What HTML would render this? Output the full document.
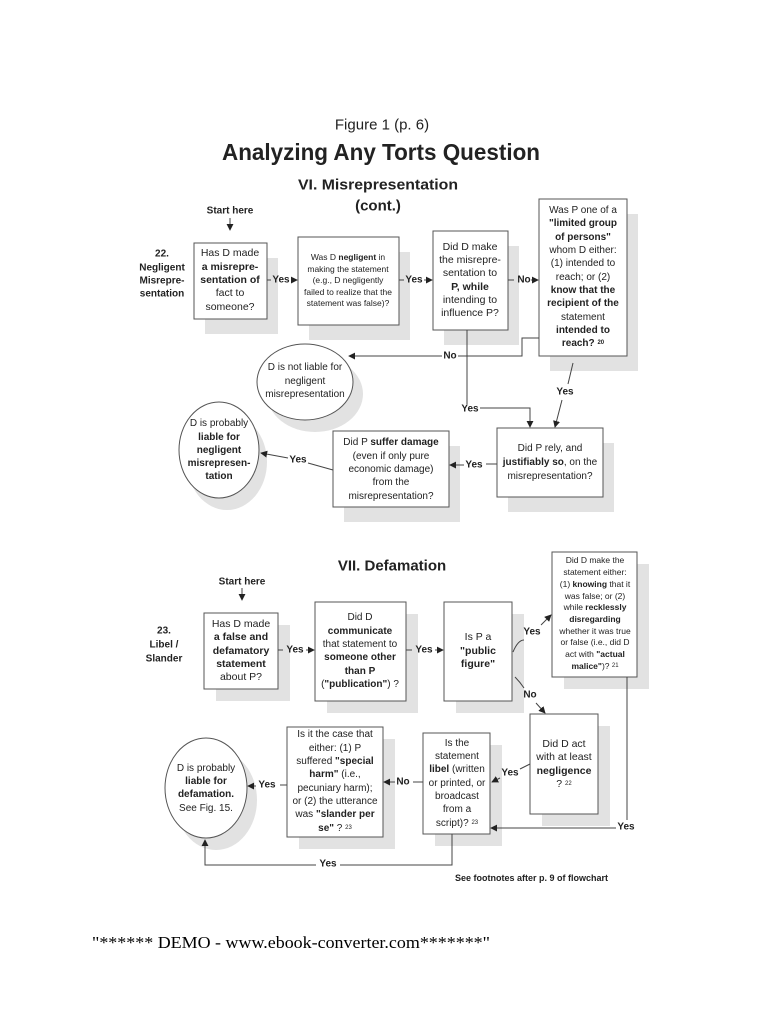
<!DOCTYPE html>
<html><head><meta charset="utf-8"><style>
html,body{margin:0;padding:0;background:#fff;}
svg{display:block;}
text{font-family:"Liberation Sans",Arial,sans-serif;fill:#222;}
.t{text-anchor:middle;dominant-baseline:central;}
.b{font-weight:bold;}
.ln{stroke:#444;stroke-width:1;fill:none;}
.bx{fill:#fff;stroke:#555;stroke-width:1;}
.sh{fill:#e2e2e2;}
</style></head><body>
<svg width="768" height="1024" viewBox="0 0 768 1024" xmlns="http://www.w3.org/2000/svg">
<defs><marker id="a" viewBox="0 0 8 8" refX="7" refY="4" markerWidth="7" markerHeight="7" orient="auto"><path d="M0,0 L8,4 L0,8 z" fill="#222"/></marker></defs>

<text class="t" x="382" y="125" font-size="15">Figure 1 (p. 6)</text>
<text class="t b" x="381" y="152" font-size="23" textLength="318" lengthAdjust="spacingAndGlyphs">Analyzing Any Torts Question</text>
<text class="t b" x="378" y="185" font-size="15" textLength="160" lengthAdjust="spacingAndGlyphs">VI. Misrepresentation</text>
<text class="t b" x="378" y="206" font-size="15">(cont.)</text>

<!-- section 1 -->
<text class="t b" x="230" y="211" font-size="10">Start here</text>
<line class="ln" x1="230" y1="218" x2="230" y2="230" marker-end="url(#a)"/>
<text class="t b" x="162" y="254" font-size="10">22.</text>
<text class="t b" x="162" y="268" font-size="10">Negligent</text>
<text class="t b" x="162" y="281" font-size="10">Misrepre-</text>
<text class="t b" x="162" y="294" font-size="10">sentation</text>

<rect class="sh" x="205" y="258" width="73" height="76"/>
<rect class="sh" x="309" y="252" width="101" height="88"/>
<rect class="sh" x="444" y="246" width="75" height="99"/>
<rect class="sh" x="550" y="214" width="88" height="157"/>
<rect class="sh" x="344" y="446" width="116" height="76"/>
<rect class="sh" x="508" y="443" width="106" height="69"/>
<ellipse class="sh" cx="315" cy="394" rx="48" ry="38"/>
<ellipse class="sh" cx="227" cy="462" rx="40" ry="48"/>

<rect class="bx" x="194" y="243" width="73" height="76"/>
<text class="t" font-size="10.5" x="230"><tspan x="230" y="253">Has D made</tspan><tspan x="230" y="267" class="b">a misrepre-</tspan><tspan x="230" y="280" class="b">sentation of</tspan><tspan x="230" y="293">fact to</tspan><tspan x="230" y="307">someone?</tspan></text>

<rect class="bx" x="298" y="237" width="101" height="88"/>
<text class="t" font-size="8.5"><tspan x="348" y="257">Was D <tspan class="b">negligent</tspan> in</tspan><tspan x="348" y="269">making the statement</tspan><tspan x="348" y="280">(e.g., D negligently</tspan><tspan x="348" y="292">failed to realize that the</tspan><tspan x="348" y="303">statement was false)?</tspan></text>

<rect class="bx" x="433" y="231" width="75" height="99"/>
<text class="t" font-size="10.5"><tspan x="470" y="247">Did D make</tspan><tspan x="470" y="260">the misrepre-</tspan><tspan x="470" y="273">sentation to</tspan><tspan x="470" y="287" class="b">P, while</tspan><tspan x="470" y="300">intending to</tspan><tspan x="470" y="313">influence P?</tspan></text>

<rect class="bx" x="539" y="199" width="88" height="157"/>
<text class="t" font-size="10"><tspan x="583" y="210">Was P one of a</tspan><tspan x="583" y="223" class="b">"limited group</tspan><tspan x="583" y="237" class="b">of persons"</tspan><tspan x="583" y="250">whom D either:</tspan><tspan x="583" y="263">(1) intended to</tspan><tspan x="583" y="277">reach; or (2)</tspan><tspan x="583" y="290" class="b">know that the</tspan><tspan x="583" y="303" class="b">recipient of the</tspan><tspan x="583" y="317">statement</tspan><tspan x="583" y="330" class="b">intended to</tspan><tspan x="583" y="343" class="b">reach? <tspan font-size="6">20</tspan></tspan></text>

<ellipse class="bx" cx="305" cy="382" rx="48" ry="38"/>
<text class="t" font-size="10"><tspan x="305" y="367">D is not liable for</tspan><tspan x="305" y="381">negligent</tspan><tspan x="305" y="394">misrepresentation</tspan></text>

<ellipse class="bx" cx="219" cy="450" rx="40" ry="48"/>
<text class="t" font-size="10"><tspan x="219" y="423">D is probably</tspan><tspan x="219" y="437" class="b">liable for</tspan><tspan x="219" y="450" class="b">negligent</tspan><tspan x="219" y="463" class="b">misrepresen-</tspan><tspan x="219" y="476" class="b">tation</tspan></text>

<rect class="bx" x="333" y="431" width="116" height="76"/>
<text class="t" font-size="10"><tspan x="391" y="442">Did P <tspan class="b">suffer damage</tspan></tspan><tspan x="391" y="456">(even if only pure</tspan><tspan x="391" y="469">economic damage)</tspan><tspan x="391" y="482">from the</tspan><tspan x="391" y="496">misrepresentation?</tspan></text>

<rect class="bx" x="497" y="428" width="106" height="69"/>
<text class="t" font-size="10"><tspan x="550" y="448">Did P rely, and</tspan><tspan x="550" y="462"><tspan class="b">justifiably so</tspan>, on the</tspan><tspan x="550" y="476">misrepresentation?</tspan></text>

<!-- connectors 1 -->
<line class="ln" x1="267" y1="280" x2="271" y2="280"/><text class="t b" x="281" y="280" font-size="10">Yes</text><line class="ln" x1="291" y1="280" x2="297" y2="280" marker-end="url(#a)"/>
<line class="ln" x1="399" y1="280" x2="404" y2="280"/><text class="t b" x="414" y="280" font-size="10">Yes</text><line class="ln" x1="424" y1="280" x2="432" y2="280" marker-end="url(#a)"/>
<line class="ln" x1="508" y1="280" x2="514" y2="280"/><text class="t b" x="524" y="280" font-size="10">No</text><line class="ln" x1="531" y1="280" x2="538" y2="280" marker-end="url(#a)"/>
<polyline class="ln" points="539,338 522,338 522,356 458,356"/><text class="t b" x="450" y="356" font-size="10">No</text><line class="ln" x1="442" y1="356" x2="349" y2="356" marker-end="url(#a)"/>
<polyline class="ln" points="467,330 467,404"/><text class="t b" x="470" y="409" font-size="10">Yes</text><polyline class="ln" points="480,408 530,408 530,427" marker-end="url(#a)"/>
<line class="ln" x1="573" y1="363" x2="568" y2="384"/><text class="t b" x="565" y="392" font-size="10">Yes</text><line class="ln" x1="562" y1="400" x2="555" y2="427" marker-end="url(#a)"/>
<line class="ln" x1="497" y1="464" x2="486" y2="464"/><text class="t b" x="474" y="465" font-size="10">Yes</text><line class="ln" x1="464" y1="465" x2="450" y2="465" marker-end="url(#a)"/>
<line class="ln" x1="333" y1="470" x2="308" y2="463"/><text class="t b" x="298" y="460" font-size="10">Yes</text><line class="ln" x1="288" y1="458" x2="261" y2="453" marker-end="url(#a)"/>

<!-- section 2 -->
<text class="t b" x="392" y="566" font-size="15">VII. Defamation</text>
<text class="t b" x="242" y="582" font-size="10">Start here</text>
<line class="ln" x1="242" y1="588" x2="242" y2="600" marker-end="url(#a)"/>
<text class="t b" x="164" y="631" font-size="10">23.</text>
<text class="t b" x="164" y="645" font-size="10">Libel /</text>
<text class="t b" x="164" y="659" font-size="10">Slander</text>

<rect class="sh" x="216" y="625" width="74" height="76"/>
<rect class="sh" x="327" y="614" width="91" height="99"/>
<rect class="sh" x="456" y="614" width="68" height="99"/>
<rect class="sh" x="564" y="564" width="85" height="125"/>
<rect class="sh" x="542" y="726" width="68" height="100"/>
<rect class="sh" x="435" y="745" width="67" height="101"/>
<rect class="sh" x="299" y="739" width="96" height="110"/>
<ellipse class="sh" cx="216" cy="800" rx="41" ry="50"/>

<rect class="bx" x="204" y="613" width="74" height="76"/>
<text class="t" font-size="10.5"><tspan x="241" y="624">Has D made</tspan><tspan x="241" y="637" class="b">a false and</tspan><tspan x="241" y="651" class="b">defamatory</tspan><tspan x="241" y="664" class="b">statement</tspan><tspan x="241" y="677">about P?</tspan></text>

<rect class="bx" x="315" y="602" width="91" height="99"/>
<text class="t" font-size="10"><tspan x="360" y="617">Did D</tspan><tspan x="360" y="631" class="b">communicate</tspan><tspan x="360" y="644">that statement to</tspan><tspan x="360" y="657" class="b">someone other</tspan><tspan x="360" y="671" class="b">than P</tspan><tspan x="360" y="684">(<tspan class="b">"publication"</tspan>) ?</tspan></text>

<rect class="bx" x="444" y="602" width="68" height="99"/>
<text class="t" font-size="10.5"><tspan x="478" y="637">Is P a</tspan><tspan x="478" y="651" class="b">"public</tspan><tspan x="478" y="664" class="b">figure"</tspan></text>

<rect class="bx" x="552" y="552" width="85" height="125"/>
<text class="t" font-size="8.5"><tspan x="595" y="560">Did D make the</tspan><tspan x="595" y="572">statement either:</tspan><tspan x="595" y="584">(1) <tspan class="b">knowing</tspan> that it</tspan><tspan x="595" y="596">was false; or (2)</tspan><tspan x="595" y="607">while <tspan class="b">recklessly</tspan></tspan><tspan x="595" y="619" class="b">disregarding</tspan><tspan x="595" y="631">whether it was true</tspan><tspan x="595" y="642">or false (i.e., did D</tspan><tspan x="595" y="654">act with <tspan class="b">"actual</tspan></tspan><tspan x="595" y="666"><tspan class="b">malice"</tspan>)? <tspan font-size="6">21</tspan></tspan></text>

<rect class="bx" x="530" y="714" width="68" height="100"/>
<text class="t" font-size="10.5"><tspan x="564" y="744">Did D act</tspan><tspan x="564" y="757">with at least</tspan><tspan x="564" y="771" class="b">negligence</tspan><tspan x="564" y="784">? <tspan font-size="6">22</tspan></tspan></text>

<rect class="bx" x="423" y="733" width="67" height="101"/>
<text class="t" font-size="10"><tspan x="457" y="743">Is the</tspan><tspan x="457" y="756">statement</tspan><tspan x="457" y="769"><tspan class="b">libel</tspan> (written</tspan><tspan x="457" y="783">or printed, or</tspan><tspan x="457" y="796">broadcast</tspan><tspan x="457" y="809">from a</tspan><tspan x="457" y="823">script)? <tspan font-size="6">23</tspan></tspan></text>

<rect class="bx" x="287" y="727" width="96" height="110"/>
<text class="t" font-size="10"><tspan x="335" y="734">Is it the case that</tspan><tspan x="335" y="748">either: (1) P</tspan><tspan x="335" y="761">suffered <tspan class="b">"special</tspan></tspan><tspan x="335" y="774"><tspan class="b">harm"</tspan> (i.e.,</tspan><tspan x="335" y="788">pecuniary harm);</tspan><tspan x="335" y="801">or (2) the utterance</tspan><tspan x="335" y="814">was <tspan class="b">"slander per</tspan></tspan><tspan x="335" y="828"><tspan class="b">se"</tspan> ? <tspan font-size="6">23</tspan></tspan></text>

<ellipse class="bx" cx="206" cy="788" rx="41" ry="50"/>
<text class="t" font-size="10"><tspan x="206" y="768">D is probably</tspan><tspan x="206" y="781" class="b">liable for</tspan><tspan x="206" y="794" class="b">defamation.</tspan><tspan x="206" y="808">See Fig. 15.</tspan></text>

<!-- connectors 2 -->
<line class="ln" x1="278" y1="650" x2="283" y2="650"/><text class="t b" x="295" y="650" font-size="10">Yes</text><line class="ln" x1="306" y1="650" x2="314" y2="650" marker-end="url(#a)"/>
<line class="ln" x1="406" y1="650" x2="412" y2="650"/><text class="t b" x="424" y="650" font-size="10">Yes</text><line class="ln" x1="435" y1="650" x2="443" y2="650" marker-end="url(#a)"/>
<path class="ln" d="M513,652 Q518,640 524,640"/><text class="t b" x="532" y="632" font-size="10">Yes</text><line class="ln" x1="541" y1="625" x2="551" y2="615" marker-end="url(#a)"/>
<path class="ln" d="M515,677 Q520,682 524,688"/><text class="t b" x="530" y="695" font-size="10">No</text><line class="ln" x1="536" y1="703" x2="545" y2="713" marker-end="url(#a)"/>
<polyline class="ln" points="627,677 627,820"/><text class="t b" x="626" y="827" font-size="10">Yes</text><line class="ln" x1="616" y1="828" x2="491" y2="828" marker-end="url(#a)"/>
<line class="ln" x1="530" y1="764" x2="520" y2="769"/><text class="t b" x="510" y="773" font-size="10">Yes</text><line class="ln" x1="500" y1="778" x2="492" y2="782" marker-end="url(#a)"/>
<line class="ln" x1="423" y1="782" x2="413" y2="782"/><text class="t b" x="403" y="782" font-size="10">No</text><line class="ln" x1="395" y1="782" x2="384" y2="782" marker-end="url(#a)"/>
<line class="ln" x1="287" y1="785" x2="280" y2="785"/><text class="t b" x="267" y="785" font-size="10">Yes</text><line class="ln" x1="256" y1="786" x2="248" y2="786" marker-end="url(#a)"/>
<polyline class="ln" points="452,834 452,865 340,865"/><text class="t b" x="328" y="864" font-size="10">Yes</text><polyline class="ln" points="316,865 205,865 205,840" marker-end="url(#a)"/>
<text class="b" x="455" y="881" font-size="9">See footnotes after p. 9 of flowchart</text>

<text x="92" y="948" font-size="17" textLength="398" lengthAdjust="spacingAndGlyphs" style="font-family:'Liberation Serif',serif;fill:#000">"****** DEMO - www.ebook-converter.com*******"</text>
</svg>
</body></html>
